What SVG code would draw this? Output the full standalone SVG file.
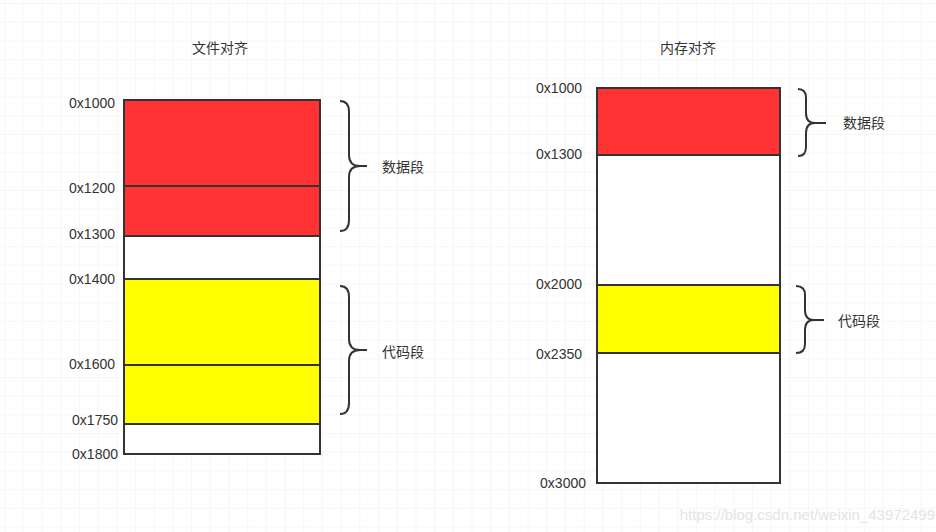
<svg xmlns="http://www.w3.org/2000/svg" width="936" height="532" viewBox="0 0 936 532">
<defs>
<pattern id="g" width="18.7" height="18.7" patternUnits="userSpaceOnUse" x="5" y="4"><path d="M18.7 0V18.7M0 18.7H18.7" fill="none" stroke="#ededed" stroke-width="1"/></pattern>
<style>
.b{stroke:#333;stroke-width:2}
.r{fill:#ff3333}.y{fill:#ffff00}.w{fill:#fff}
.t{font-family:"Liberation Sans","Noto Sans CJK SC",sans-serif;font-size:14px;fill:#333}
.br{fill:none;stroke:#333;stroke-width:2}
</style>
</defs>
<rect width="936" height="532" fill="#fff"/>
<rect width="936" height="532" fill="url(#g)"/>
<text class="t" x="220" y="53" text-anchor="middle">文件对齐</text>
<text class="t" x="688" y="53" text-anchor="middle">内存对齐</text>
<g id="left">
<rect class="b r" x="124" y="100" width="196" height="86"/>
<rect class="b r" x="124" y="186" width="196" height="50"/>
<rect class="b w" x="124" y="236" width="196" height="43"/>
<rect class="b y" x="124" y="279" width="196" height="86"/>
<rect class="b y" x="124" y="365" width="196" height="59"/>
<rect class="b w" x="124" y="424" width="196" height="30"/>
</g>
<g id="right">
<rect class="b r" x="597" y="88" width="183" height="67"/>
<rect class="b w" x="597" y="155" width="183" height="130"/>
<rect class="b y" x="597" y="285" width="183" height="68"/>
<rect class="b w" x="597" y="353" width="183" height="130"/>
</g>
<g id="labels" class="t" text-anchor="end">
<text x="115" y="108">0x1000</text><text x="115" y="193">0x1200</text><text x="115" y="239">0x1300</text><text x="115" y="284">0x1400</text><text x="115" y="369">0x1600</text><text x="118" y="425">0x1750</text><text x="118" y="459">0x1800</text>
<text x="582" y="93">0x1000</text><text x="582" y="159">0x1300</text><text x="582" y="289">0x2000</text><text x="582" y="359">0x2350</text><text x="586" y="488">0x3000</text>
</g>
<g id="braces">
<path class="br" d="M340 101Q349 101 349 112V155Q349 166 360 166H367M360 166Q349 166 349 177V220Q349 231 340 231"/>
<path class="br" d="M340 286Q349 286 349 297V339Q349 350 360 350H367M360 350Q349 350 349 361V403Q349 414 340 414"/>
<path class="br" d="M798 89Q806 89 806 98V113Q806 123 815 123H826M815 123Q806 123 806 133V147Q806 156 798 156"/>
<path class="br" d="M796 286Q805 286 805 295V310Q805 320 814 320H824M814 320Q805 320 805 330V344Q805 353 796 353"/>
</g>
<text class="t" x="382" y="172">数据段</text>
<text class="t" x="382" y="357">代码段</text>
<text class="t" x="843" y="128">数据段</text>
<text class="t" x="838" y="326">代码段</text>
<text x="935" y="520" text-anchor="end" style="font-family:'Liberation Sans',sans-serif;font-size:15px;fill:#e4e4e4">https://blog.csdn.net/weixin_43972499</text>
</svg>
